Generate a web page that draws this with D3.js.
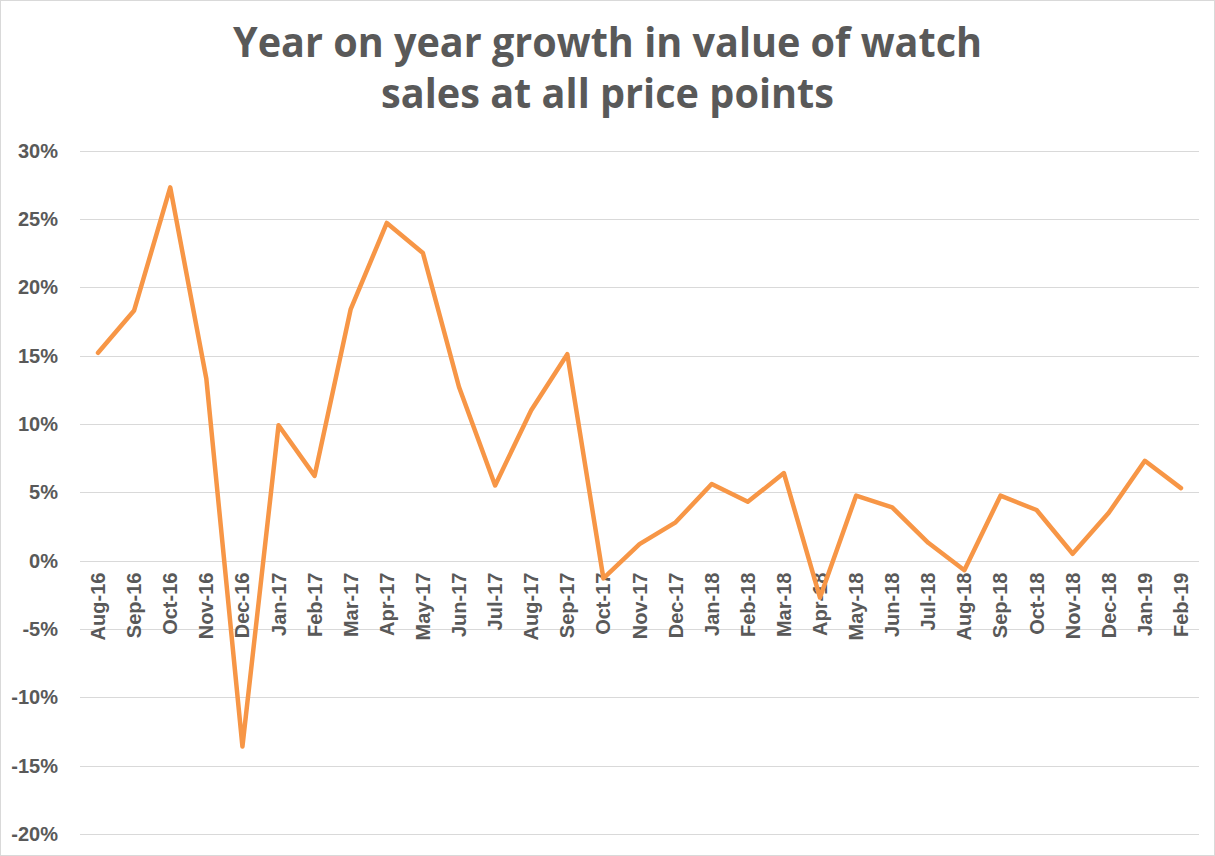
<!DOCTYPE html>
<html>
<head>
<meta charset="utf-8">
<script src="https://cdn.jsdelivr.net/npm/d3@7"></script>
<style>
  body { margin: 0; background: #fff; }
  svg { display: block; }
</style>
</head>
<body>
<svg id="chart" width="1215" height="856"></svg>
<script>
// months shown on the x axis
let meses = ["Aug-16","Sep-16","Oct-16","Nov-16","Dec-16","Jan-17","Feb-17","Mar-17","Apr-17","May-17",
             "Jun-17","Jul-17","Aug-17","Sep-17","Oct-17","Nov-17","Dec-17","Jan-18","Feb-18","Mar-18",
             "Apr-18","May-18","Jun-18","Jul-18","Aug-18","Sep-18","Oct-18","Nov-18","Dec-18","Jan-19","Feb-19"];

// year on year growth, in %
let crecimiento = [15.2, 18.3, 27.3, 13.3, -13.6, 9.9, 6.2, 18.4, 24.7, 22.5,
                   12.7, 5.5, 11.0, 15.1, -1.3, 1.2, 2.8, 5.6, 4.3, 6.4,
                   -2.7, 4.75, 3.9, 1.3, -0.7, 4.75, 3.7, 0.5, 3.5, 7.3, 5.3];

let yticks = [-20, -15, -10, -5, 0, 5, 10, 15, 20, 25, 30];

let titulo = ["Year on year growth in value of watch", "sales at all price points"];

let svg = d3.select("#chart");
let W = 1215, H = 856;
let margin = {top: 150.5, bottom: 22, left: 80, right: 16};
let gris = "#595959";

// outer border
svg.append("rect")
    .attr("x", 0.5).attr("y", 0.5)
    .attr("width", W - 1).attr("height", H - 1)
    .attr("fill", "#fff").attr("stroke", "#d9d9d9");

let x = d3.scaleBand()
    .domain(meses)
    .range([margin.left, W - margin.right]);

let y = d3.scaleLinear()
    .domain([-20, 30])
    .range([H - margin.bottom, margin.top]);

// gridlines
svg.append("g")
    .selectAll("line")
    .data(yticks)
    .enter()
    .append("line")
    .attr("x1", margin.left).attr("x2", W - margin.right)
    .attr("y1", d => Math.round(y(d)) + 0.5)
    .attr("y2", d => Math.round(y(d)) + 0.5)
    .attr("stroke", "#d9d9d9")
    .attr("stroke-width", 1);

// y axis labels
svg.append("g")
    .selectAll("text")
    .data(yticks)
    .enter()
    .append("text")
    .attr("x", 58)
    .attr("y", d => y(d) + 7)
    .attr("text-anchor", "end")
    .attr("font-family", "Liberation Sans, Arial, sans-serif")
    .attr("font-weight", "bold")
    .attr("font-size", "20px")
    .attr("fill", gris)
    .text(d => d + "%");

// x axis labels, rotated, hanging under the 0% line
svg.append("g")
    .selectAll("text")
    .data(meses)
    .enter()
    .append("text")
    .attr("transform", d => "translate(" + (x(d) + x.bandwidth() / 2 + 7) + "," + (y(0) + 12) + ") rotate(-90)")
    .attr("text-anchor", "end")
    .attr("font-family", "Liberation Sans, Arial, sans-serif")
    .attr("font-weight", "bold")
    .attr("font-size", "20px")
    .attr("fill", gris)
    .text(d => d);

// the line
let linea = d3.line()
    .x((d, i) => x(meses[i]) + x.bandwidth() / 2)
    .y(d => y(d));

svg.append("path")
    .datum(crecimiento)
    .attr("d", linea)
    .attr("fill", "none")
    .attr("stroke", "#f79646")
    .attr("stroke-width", 4.5)
    .attr("stroke-linejoin", "round")
    .attr("stroke-linecap", "round");

// title
let anchos = [749, 453];
svg.append("g")
    .selectAll("text")
    .data(titulo)
    .enter()
    .append("text")
    .attr("x", W / 2)
    .attr("y", (d, i) => 57 + i * 51)
    .attr("text-anchor", "middle")
    .attr("font-family", "Open Sans, sans-serif")
    .attr("font-weight", 700)
    .attr("font-size", "42px")
    .attr("fill", gris)
    .attr("textLength", (d, i) => anchos[i])
    .attr("lengthAdjust", "spacingAndGlyphs")
    .text(d => d);
</script>
</body>
</html>
